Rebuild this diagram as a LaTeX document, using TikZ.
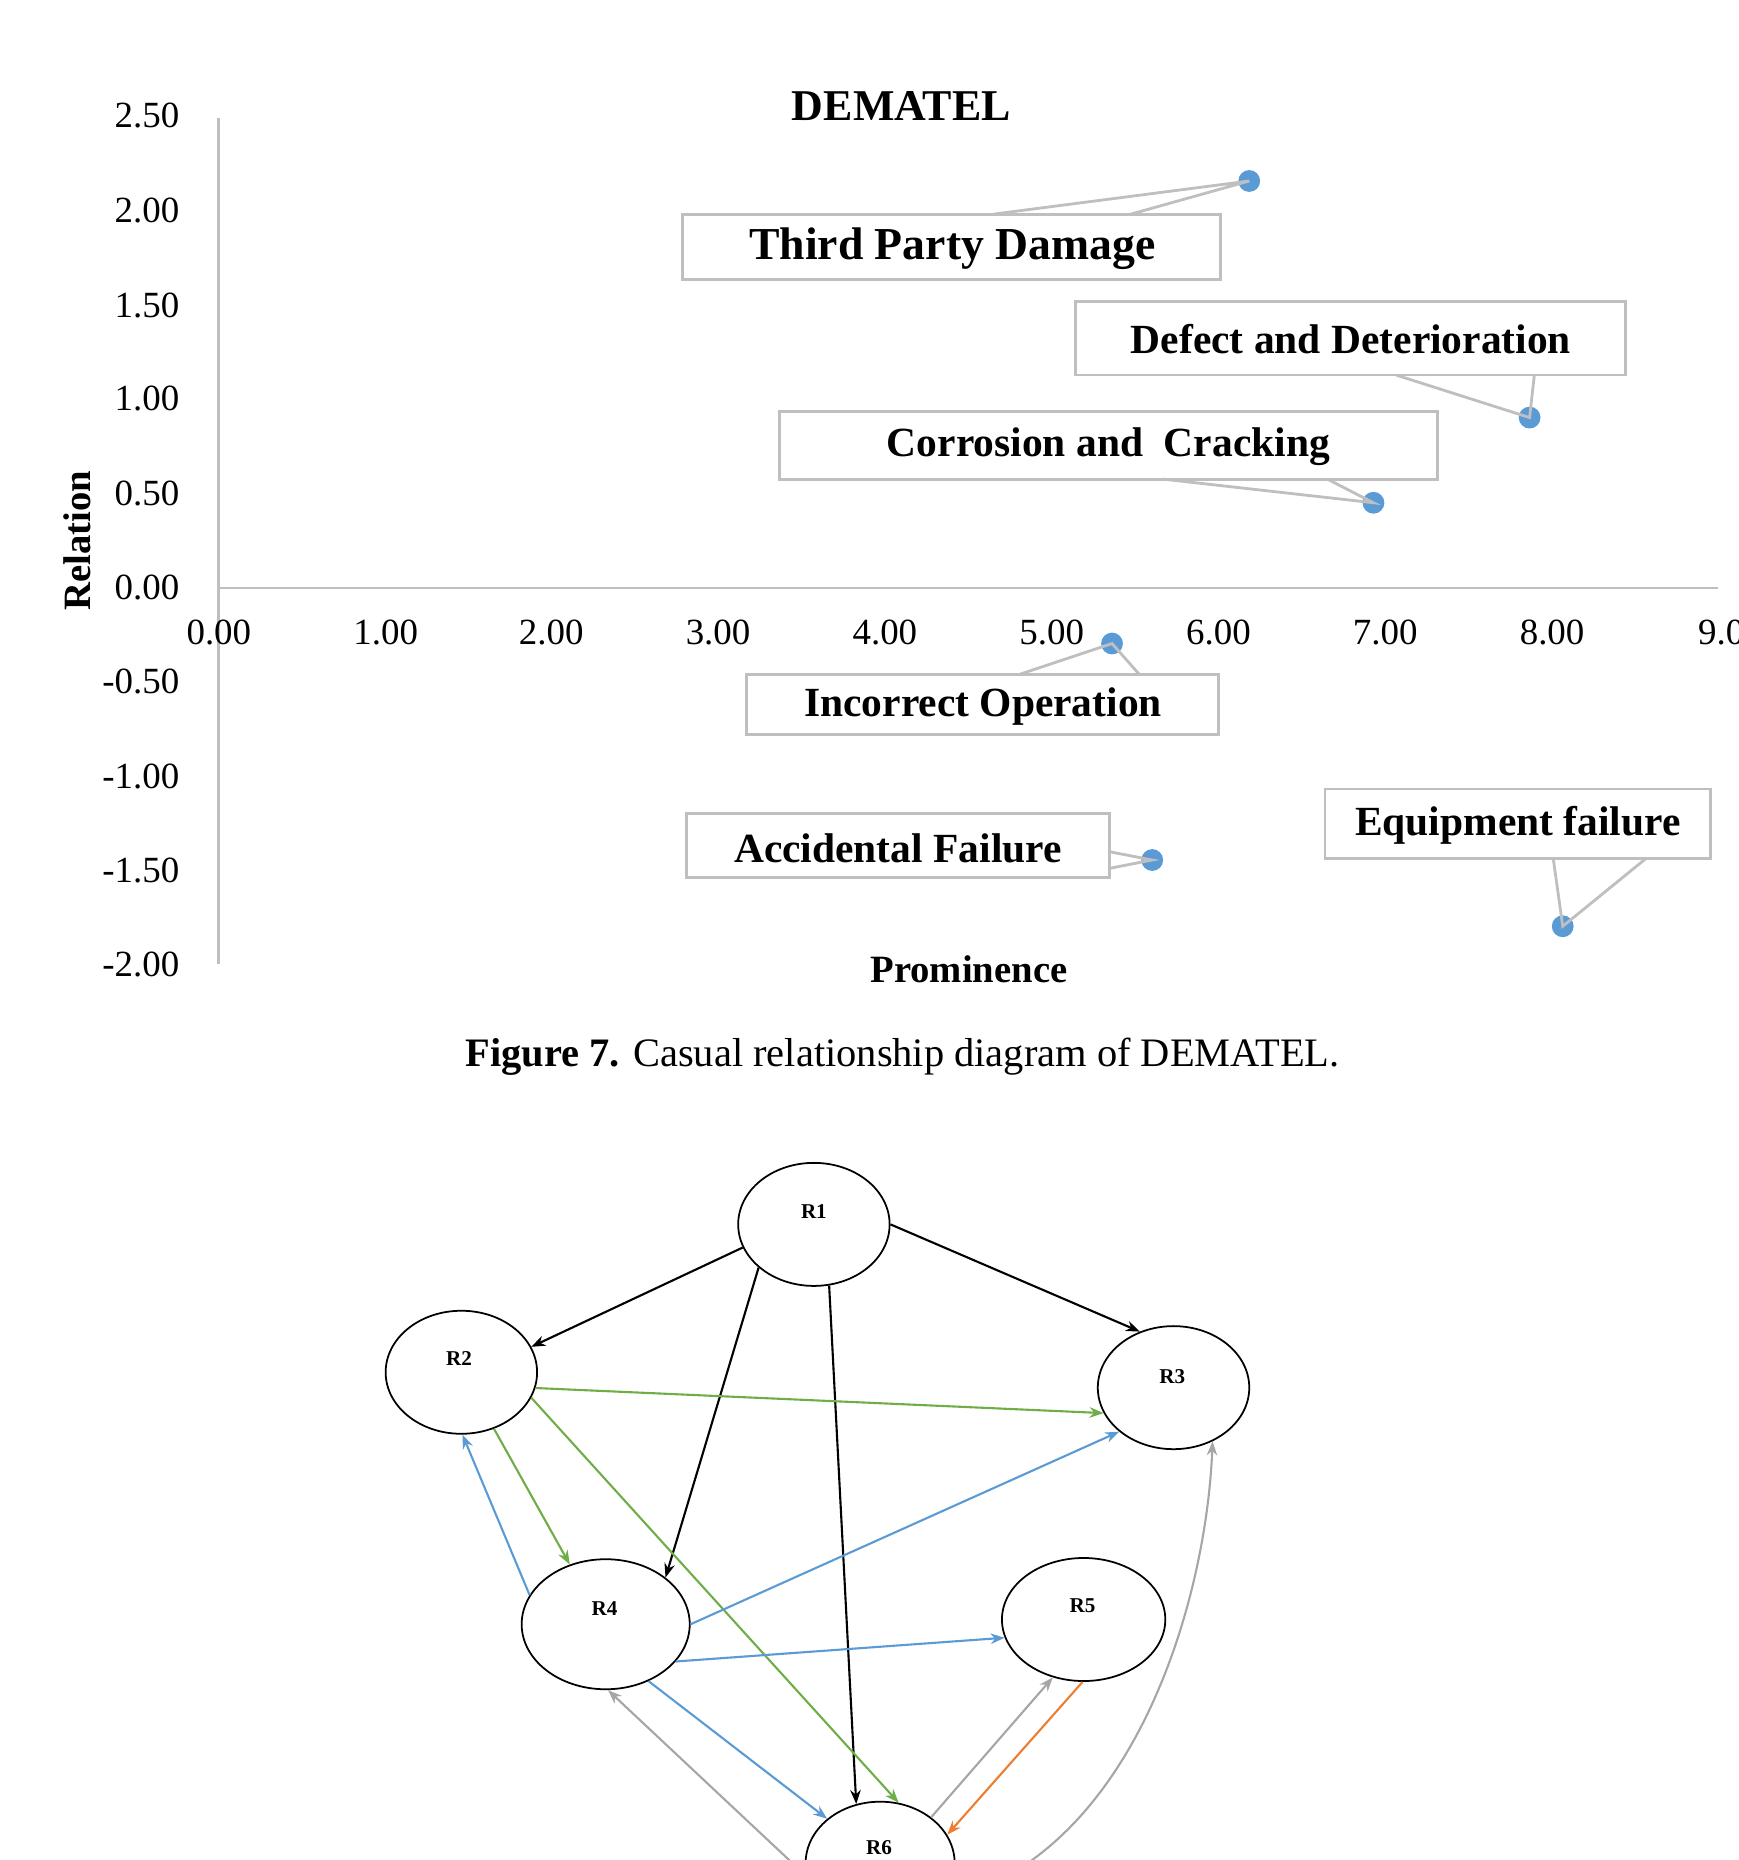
\documentclass[tikz,border=0pt]{standalone}
\usepackage{fontspec}
\setmainfont{Liberation Serif}
\usetikzlibrary{shapes.geometric,arrows.meta}
\definecolor{gr}{HTML}{BFBFBF}
\definecolor{dot}{HTML}{5B9BD5}
\definecolor{eb}{HTML}{5B9BD5}
\definecolor{eg}{HTML}{70AD47}
\definecolor{eo}{HTML}{ED7D31}
\definecolor{eh}{HTML}{A6A6A6}
\begin{document}
\begin{tikzpicture}[x=0.01183cm,y=-0.01183cm,
  tick/.style={font=\fontsize{10.5}{12}\selectfont},
  lf/.style={font=\bfseries\fontsize{11.8}{14}\selectfont},
  ptr/.style={draw=gr,line width=0.8pt},
  pt/.style={circle,fill=dot,inner sep=0pt,minimum size=6.2pt},
  ell/.style={ellipse,draw,line width=0.5pt,inner sep=0pt},
  rl/.style={font=\bfseries\fontsize{6}{7}\selectfont},
  ar/.style={line width=0.6pt,-{Stealth[length=4pt,width=3pt]}}]
\useasboundingbox (0,0) rectangle (1470,1572.3);
\clip (0,0) rectangle (1470,1572.3);
% axes
\coordinate (yt) at (185,100); \coordinate (yb) at (185,815);
\coordinate (xl) at (185,497); \coordinate (xr) at (1452,497);
\draw[gr,line width=0.8pt] (yt) -- (yb);
\draw[gr,line width=0.8pt] (xl) -- (xr);
\foreach \v/\y in {2.50/98,2.00/178,1.50/258,1.00/337,0.50/417,0.00/497,-0.50/576,-1.00/656,-1.50/736,-2.00/815}
  \node[tick,anchor=east] (ty\y) at (162,\y) {\v};
\foreach \v/\x in {0.00/185,1.00/326,2.00/466,3.00/607,4.00/748,5.00/889,6.00/1030,7.00/1171,8.00/1312}
  \node[tick] (tx\x) at (\x,535) {\v};
\node[tick,anchor=west] (tx9) at (1425,535) {9.0};
\node[font=\bfseries\fontsize{12.5}{14}\selectfont] (title) at (762,90) {DEMATEL};
\node[font=\bfseries\fontsize{11}{13}\selectfont] (xlab) at (819,819) {Prominence};
\node[font=\bfseries\fontsize{11}{13}\selectfont,rotate=90] (ylab) at (65,457) {Relation};
% labels and points
\draw[ptr,fill=white] (577,181) rectangle (1032,236);
\node[font=\bfseries\fontsize{13}{15}\selectfont] (tTPD) at (805,210) {Third Party Damage};
\node[pt] (pTPD) at (1056,153) {};
\draw[ptr] (840,181) -- (pTPD.center) -- (956,181);
\draw[ptr,fill=white] (909,255) rectangle (1374,317);
\node[lf] (tDD) at (1142,287) {Defect and Deterioration};
\node[pt] (pDD) at (1293,353) {};
\draw[ptr] (1180,317) -- (pDD.center) -- (1297,317);
\draw[ptr,fill=white] (659,348) rectangle (1215,405);
\node[lf] (tCC) at (937,378) {Corrosion and~~Cracking};
\node[pt] (pCC) at (1161,425) {};
\draw[ptr] (983,405) -- (pCC.center) -- (1122,405);
\draw[ptr,fill=white] (631,570) rectangle (1030,621);
\node[lf] (tIO) at (831,597) {Incorrect Operation};
\node[pt] (pIO) at (940,544) {};
\draw[ptr] (862,570) -- (pIO.center) -- (963,570);
\draw[ptr,fill=white] (580,688) rectangle (938,742);
\node[lf] (tAF) at (759,717) {Accidental Failure};
\node[pt] (pAF) at (974,727) {};
\draw[ptr] (938,720) -- (pAF.center) -- (938,734);
\draw[ptr,fill=white] (1120,667) rectangle (1446,726);
\node[lf] (tEF) at (1283,698) {Equipment failure};
\node[pt] (pEF) at (1321,783) {};
\draw[ptr] (1313,726) -- (pEF.center) -- (1391,726);
% caption
\node[font=\fontsize{11.5}{13}\selectfont] (cap) at (763,893) {\textbf{Figure 7.} Casual relationship diagram of DEMATEL.};
% graph
\node[ell,minimum width=1.514cm,minimum height=1.23cm] (R1) at (688,1035) {};
\node[ell,minimum width=1.514cm,minimum height=1.23cm] (R2) at (390,1160) {};
\node[ell,minimum width=1.514cm,minimum height=1.23cm] (R3) at (992,1173) {};
\node[ell,minimum width=1.68cm,minimum height=1.30cm] (R4) at (512,1373) {};
\node[ell,minimum width=1.633cm,minimum height=1.23cm] (R5) at (916,1369) {};
\node[ell,minimum width=1.49cm,minimum height=1.23cm] (R6) at (744,1575) {};
\node[rl] at (688,1024) {R1};
\node[rl] at (388,1148) {R2};
\node[rl] at (991,1164) {R3};
\node[rl] at (511,1360) {R4};
\node[rl] at (915,1357) {R5};
\node[rl] at (743,1562) {R6};
\draw[ar] (R1.198) -- (R2.20);
\draw[ar] (R1.0) -- (R3.121);
\draw[ar] (R1.-142) -- (R4.38);
\draw[ar] (R1.-76) -- (R6.112);
\draw[ar,eg] (R2.-12) -- (R3.200);
\draw[ar,eg] (R2.-20) -- (R6.73);
\draw[ar,eg] (R2.-60) -- (R4.121);
\draw[ar,eb] (R4.159) -- (R2.-89);
\draw[ar,eb] (R4.0) -- (R3.219);
\draw[ar,eb] (R4.-28) -- (R5.193);
\draw[ar,eb] (R4.-53) -- (R6.140);
\draw[ar,eh] (R6.190) -- (R4.-88);
\draw[ar,eh] (R6.42) -- (R5.242);
\draw[ar,eo] (R5.-91) -- (R6.23);
\draw[ar,eh] (R6.-35) .. controls (960,1570) and (1020,1350) .. (R3.-54);
\end{tikzpicture}
\end{document}
